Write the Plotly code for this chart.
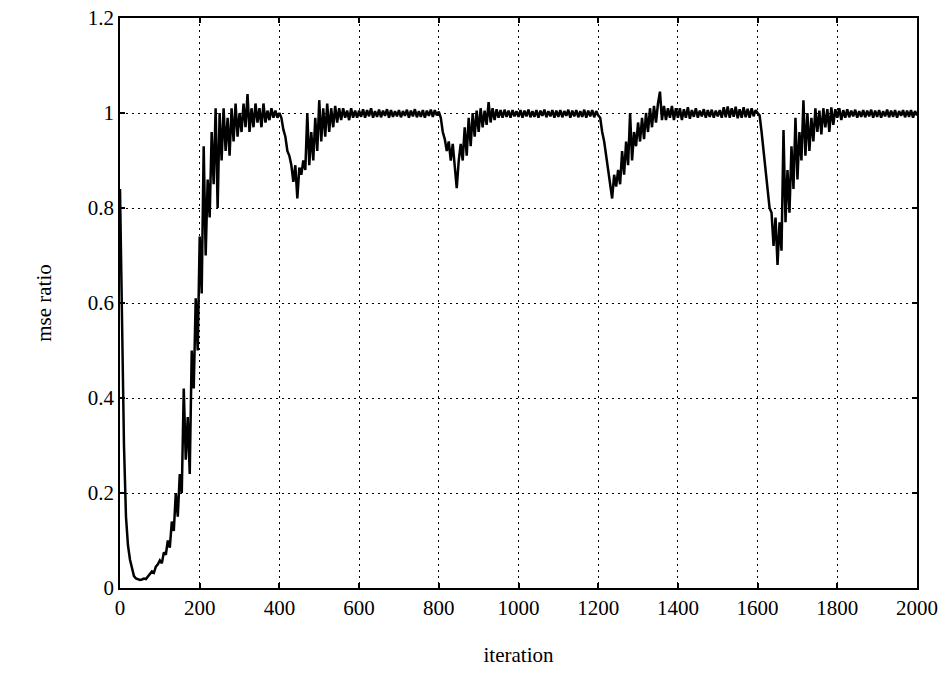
import plotly.graph_objects as go

# iteration axis: one sample every 5 iterations, 0..2000
iterations = list(range(0, 2001, 5))

# mse ratio values (rows of 20 = 100 iterations)
mse_0_95 = [0.84, 0.52, 0.30, 0.15, 0.09, 0.06, 0.04, 0.025, 0.02, 0.018,
            0.017, 0.018, 0.02, 0.019, 0.024, 0.03, 0.035, 0.032, 0.045, 0.05]
mse_100_195 = [0.058, 0.052, 0.075, 0.07, 0.1, 0.085, 0.14, 0.12, 0.2, 0.15,
               0.24, 0.2, 0.42, 0.27, 0.36, 0.24, 0.5, 0.42, 0.61, 0.5]
mse_200_295 = [0.74, 0.62, 0.93, 0.7, 0.86, 0.78, 0.96, 0.85, 1.01, 0.8,
               1.0, 0.9, 1.01, 0.92, 0.99, 0.91, 1.01, 0.94, 1.02, 0.95]
mse_300_395 = [1.0, 0.96, 1.02, 0.97, 1.04, 0.96, 1.01, 0.97, 1.02, 0.98,
               1.01, 0.97, 1.02, 0.98, 1.005, 0.985, 1.01, 0.99, 1.005, 0.99]
mse_400_495 = [1.0, 0.99, 0.965, 0.95, 0.92, 0.91, 0.89, 0.855, 0.89, 0.82,
               0.885, 0.87, 0.9, 0.88, 1.0, 0.89, 0.96, 0.9, 0.99, 0.92]
mse_500_595 = [1.027, 0.94, 1.01, 0.95, 1.02, 0.96, 1.01, 0.97, 1.015, 0.98,
               1.01, 0.985, 1.01, 0.99, 1.005, 0.985, 1.01, 0.99, 1.005, 0.99]
mse_600_695 = [1.005, 0.992, 1.008, 0.99, 1.006, 0.993, 1.01, 0.99, 1.004, 0.992,
               1.007, 0.991, 1.005, 0.994, 1.008, 0.99, 1.006, 0.992, 1.004, 0.993]
mse_700_795 = [1.006, 0.991, 1.004, 0.994, 1.007, 0.99, 1.005, 0.993, 1.008, 0.991,
               1.004, 0.992, 1.006, 0.99, 1.005, 0.994, 1.007, 0.992, 1.006, 0.995]
mse_800_895 = [1.003, 0.99, 0.96, 0.945, 0.92, 0.94, 0.9, 0.935, 0.895, 0.842,
               0.9, 0.935, 0.9, 0.97, 0.91, 0.99, 0.93, 1.0, 0.95, 1.005]
mse_900_995 = [0.96, 1.01, 0.97, 1.005, 0.975, 1.023, 0.98, 1.01, 0.985, 1.008,
               0.99, 1.006, 0.99, 1.007, 0.992, 1.005, 0.99, 1.006, 0.993, 1.004]
mse_1000_1095 = [0.992, 1.006, 0.99, 1.005, 0.993, 1.007, 0.991, 1.004, 0.992, 1.006,
                 0.99, 1.005, 0.994, 1.007, 0.991, 1.004, 0.993, 1.006, 0.99, 1.005]
mse_1100_1195 = [0.992, 1.006, 0.991, 1.004, 0.994, 1.007, 0.99, 1.005, 0.993, 1.006,
                 0.991, 1.004, 0.992, 1.007, 0.99, 1.005, 0.993, 1.006, 0.991, 1.004]
mse_1200_1295 = [0.995, 0.99, 0.96, 0.94, 0.91, 0.88, 0.86, 0.82, 0.87, 0.845,
                 0.88, 0.85, 0.92, 0.87, 0.94, 0.89, 1.0, 0.9, 0.96, 0.93]
mse_1300_1395 = [0.98, 0.94, 0.99, 0.945, 1.0, 0.96, 1.01, 0.97, 1.015, 0.98,
                 1.02, 1.045, 0.985, 1.015, 0.985, 1.01, 0.99, 1.015, 0.985, 1.01]
mse_1400_1495 = [0.99, 1.01, 0.985, 1.008, 0.99, 1.012, 0.988, 1.006, 0.992, 1.01,
                 0.99, 1.005, 0.993, 1.008, 0.99, 1.006, 0.992, 1.007, 0.99, 1.005]
mse_1500_1595 = [0.993, 1.006, 0.99, 1.012, 0.991, 1.014, 0.99, 1.01, 0.992, 1.013,
                 0.989, 1.008, 0.99, 1.012, 0.991, 1.009, 0.99, 1.01, 0.993, 1.006]
mse_1600_1695 = [1.0, 0.995, 0.96, 0.92, 0.88, 0.84, 0.8, 0.79, 0.72, 0.78,
                 0.68, 0.77, 0.71, 0.964, 0.77, 0.88, 0.79, 0.93, 0.84, 0.99]
mse_1700_1795 = [0.86, 0.96, 0.9, 1.027, 0.91, 1.0, 0.92, 0.99, 0.94, 1.01,
                 0.96, 1.005, 0.955, 1.01, 0.97, 1.008, 0.96, 1.012, 0.975, 1.008]
mse_1800_1895 = [0.99, 1.01, 0.985, 1.006, 0.99, 1.008, 0.991, 1.005, 0.993, 1.007,
                 0.99, 1.004, 0.992, 1.006, 0.991, 1.005, 0.993, 1.007, 0.99, 1.005]
mse_1900_2000 = [0.992, 1.006, 0.99, 1.004, 0.993, 1.007, 0.991, 1.005, 0.992, 1.006,
                 0.99, 1.004, 0.994, 1.006, 0.991, 1.005, 0.992, 1.006, 0.99, 1.004,
                 0.995]

mse_ratio = (mse_0_95 + mse_100_195 + mse_200_295 + mse_300_395 + mse_400_495
             + mse_500_595 + mse_600_695 + mse_700_795 + mse_800_895 + mse_900_995
             + mse_1000_1095 + mse_1100_1195 + mse_1200_1295 + mse_1300_1395
             + mse_1400_1495 + mse_1500_1595 + mse_1600_1695 + mse_1700_1795
             + mse_1800_1895 + mse_1900_2000)

x_ticks = [0, 200, 400, 600, 800, 1000, 1200, 1400, 1600, 1800, 2000]
y_ticks = [0, 0.2, 0.4, 0.6, 0.8, 1.0, 1.2]
y_tick_labels = ["0", "0.2", "0.4", "0.6", "0.8", "1", "1.2"]

FONT = "Liberation Serif"

fig = go.Figure()
fig.add_trace(go.Scatter(
    x=iterations, y=mse_ratio, mode="lines",
    line=dict(color="black", width=2.5), showlegend=False,
))

axis_common = dict(
    showline=True, linecolor="black", linewidth=1.8, mirror="ticks",
    ticks="inside", ticklen=5, tickcolor="black", tickwidth=1.5,
    showgrid=True, gridcolor="black", gridwidth=1, griddash="2px,4px",
    zeroline=False, automargin=False, ticklabeloverflow="allow",
    tickfont=dict(family=FONT, size=21, color="black"),
)

fig.update_layout(
    width=950, height=683,
    margin=dict(l=120, r=33, t=18, b=95),
    paper_bgcolor="white", plot_bgcolor="white",
    font=dict(family=FONT, color="black"),
    xaxis=dict(range=[0, 2000], tickvals=x_ticks,
               title=dict(text="iteration", font=dict(family=FONT, size=21), standoff=28),
               **axis_common),
    yaxis=dict(range=[0, 1.2], tickvals=y_ticks, ticktext=y_tick_labels,
               title=dict(text="mse ratio", font=dict(family=FONT, size=21), standoff=30),
               **axis_common),
)

# remove the default page margin so the figure fills the window exactly
fig.write_html("out.html", config={"displayModeBar": False},
               post_script="document.body.style.margin='0';")
